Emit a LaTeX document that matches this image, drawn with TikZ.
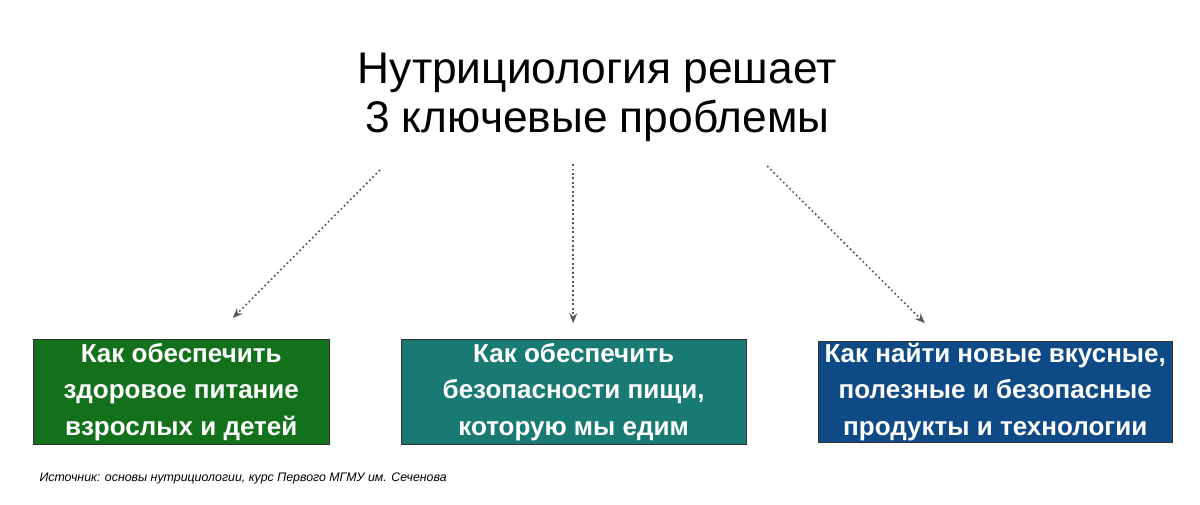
\documentclass[tikz,border=0pt]{standalone}
\usepackage{fontspec}
\setmainfont{Liberation Sans}
\usetikzlibrary{positioning}
\usetikzlibrary{arrows.meta}
\definecolor{healthgreen}{HTML}{13711B}
\definecolor{safeteal}{HTML}{187A73}
\definecolor{techblue}{HTML}{0E4A86}
\tikzset{
  problem/.style  = { rectangle, draw=black!80, thin, text=white, font=\fontsize{18.5}{26}\selectfont\bfseries,
                      align=center, minimum height=2.63cm, inner sep=1pt },
  health/.style   = { problem, fill=healthgreen, minimum width=7.4cm },
  safety/.style   = { problem, fill=safeteal,    minimum width=8.62cm },
  tech/.style     = { problem, fill=techblue,    minimum width=8.85cm, minimum height=2.52cm },
}
\begin{document}
\begin{tikzpicture}[
  >={Stealth[length=2.5mm,width=2mm]},very thick,black!65,text=black,
]
  \useasboundingbox (0,0) rectangle (30,12.6);
  \node (title)  at (14.93,10.17) [font=\fontsize{31.5}{35}\selectfont,align=center]
    {Нутрициология решает\\3 ключевые проблемы};

  \node (health) at (4.53,2.8)   [health] {Как обеспечить\\здоровое питание\\взрослых и детей};
  \node (safety) at (14.34,2.8)  [safety] {Как обеспечить\\безопасности пищи,\\которую мы едим};
  \node (tech)   at (24.88,2.8)  [tech]   {Как найти новые вкусные,\\полезные и безопасные\\продукты и технологии};

  \node (source) at (0.85,0.65) [anchor=west,font=\fontsize{8.8}{10}\selectfont\itshape]
    {Источник: основы нутрициологии, курс Первого МГМУ им. Сеченова};

  \coordinate (fromL) at (9.5,8.35);
  \coordinate (fromM) at (14.33,8.5);
  \coordinate (fromR) at (19.18,8.45);
  \coordinate (toL)   at (5.82,4.65);
  \coordinate (toM)   at (14.33,4.52);
  \coordinate (toR)   at (23.12,4.52);

  \draw [->,dotted] (fromL) -- (toL);
  \draw [->,dotted] (fromM) -- (toM);
  \draw [->,dotted] (fromR) -- (toR);
\end{tikzpicture}
\end{document}
